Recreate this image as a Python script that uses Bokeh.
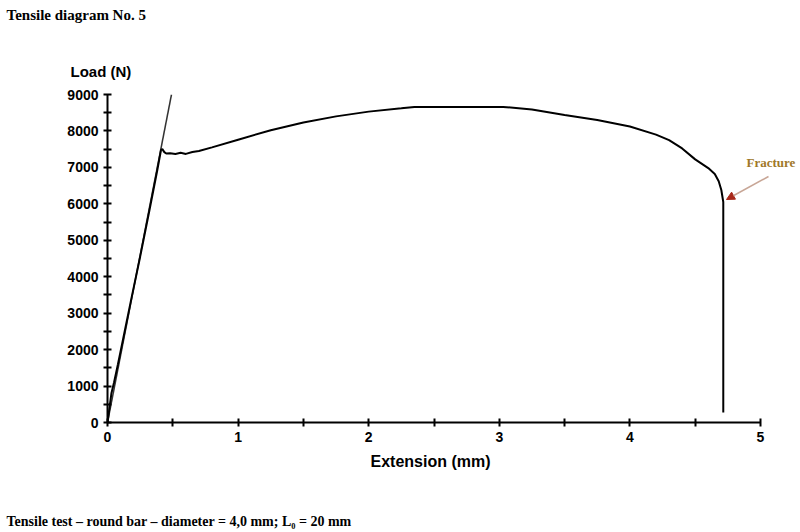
from bokeh.plotting import figure
from bokeh.embed import file_html
from bokeh.resources import INLINE
from bokeh.models import FixedTicker, Label, Arrow, NormalHead, Range1d, Title

# ---- data ----
extension = [0, 0.03, 0.05, 0.08, 0.12, 0.18, 0.25, 0.32, 0.38, 0.41, 0.42, 0.435,
             0.45, 0.48, 0.52, 0.56, 0.6, 0.65, 0.7, 0.8, 1.0, 1.25, 1.5, 1.75,
             2.0, 2.25, 2.35, 3.03, 3.25, 3.5, 3.75, 4.0, 4.2, 4.3, 4.4, 4.5,
             4.6, 4.65, 4.68, 4.70, 4.715, 4.715]
load = [0, 800, 1100, 1600, 2300, 3350, 4550, 5800, 6900, 7480, 7500, 7420,
        7380, 7390, 7370, 7400, 7370, 7420, 7450, 7550, 7760, 8020, 8230, 8400,
        8530, 8620, 8660, 8660, 8590, 8440, 8300, 8120, 7900, 7750, 7520, 7220,
        6980, 6820, 6620, 6380, 6050, 275]
elastic_x = [0, 0.49]
elastic_y = [0, 9000]

y_ticks = list(range(0, 9001, 500))
y_labels = {t: (str(t) if t % 1000 == 0 else "") for t in y_ticks}
x_ticks = [0, 0.5, 1, 1.5, 2, 2.5, 3, 3.5, 4, 4.5, 5]
x_labels = {t: (str(int(t)) if float(t).is_integer() else "") for t in x_ticks}

title_text = "Tensile diagram No. 5"
caption_text = "Tensile test \u2013 round bar \u2013 diameter = 4,0 mm; L\u2080 = 20 mm"
SERIF = "'Liberation Serif', 'DejaVu Serif', serif"

X_PER_PX = 5 / 653.0
p = figure(width=800, height=532, output_backend="svg", toolbar_location=None,
           x_range=Range1d(0, 693 * X_PER_PX), y_range=Range1d(0, 9000),
           min_border_left=107, min_border_right=0, min_border_top=94,
           min_border_bottom=110)
p.outline_line_color = None
p.xgrid.visible = False
p.ygrid.visible = False
p.background_fill_color = "white"
p.border_fill_color = "white"

for ax in (p.xaxis[0], p.yaxis[0]):
    ax.axis_line_width = 2
    ax.axis_line_color = "black"
    ax.major_tick_in = 4
    ax.major_tick_out = 4
    ax.major_tick_line_width = 2
    ax.minor_tick_line_color = None
    ax.major_label_text_font = "Liberation Sans"
    ax.major_label_text_font_style = "bold"
    ax.major_label_text_font_size = "14px"
    ax.major_label_text_color = "black"

p.yaxis.ticker = FixedTicker(ticks=y_ticks)
p.yaxis.major_label_overrides = y_labels
p.yaxis.major_label_standoff = 5
p.xaxis.ticker = FixedTicker(ticks=x_ticks)
p.xaxis.major_label_overrides = x_labels
p.xaxis.major_label_standoff = 5
p.xaxis.bounds = (0, 5)

p.line(elastic_x, elastic_y, line_color="#333333", line_width=1.5)
p.line(extension, load, line_color="black", line_width=2)

def px_to_x(px):
    return (px - 107) * X_PER_PX

def py_to_y(py):
    return (422 - py) * 9000 / 328

def spacer(standoff):
    return Title(text=" ", standoff=standoff, text_font_size="1px",
                 text_color="white")

# texts outside the frame live in the side panels (stacked from the frame outward)
p.add_layout(Title(text="Load (N)", align="left", offset=70 - 107, standoff=30,
                   text_font="Liberation Sans", text_font_style="bold",
                   text_font_size="15px", text_color="black"), "above")
p.add_layout(spacer(17), "above")
p.add_layout(Title(text=title_text, align="left", offset=6 - 107, standoff=6,
                   text_font=SERIF, text_font_style="bold",
                   text_font_size="15px", text_color="black"), "above")

p.add_layout(Title(text="Extension (mm)", align="left", offset=370 - 107, standoff=12,
                   text_font="Liberation Sans", text_font_style="bold",
                   text_font_size="16px", text_color="black"), "below")
p.add_layout(spacer(32), "below")
p.add_layout(Title(text=caption_text, align="left", offset=6 - 107, standoff=2,
                   text_font=SERIF, text_font_style="bold",
                   text_font_size="14px", text_color="black"), "below")

p.add_layout(Label(x=px_to_x(746), y=py_to_y(169), text="Fracture",
                   text_font="Liberation Serif", text_font_style="bold",
                   text_font_size="13px", text_color="#a07828"))
p.add_layout(Arrow(x_start=px_to_x(768), y_start=py_to_y(176),
                   x_end=px_to_x(726), y_end=py_to_y(199),
                   line_color="#c8a696", line_width=1.5,
                   end=NormalHead(size=8, fill_color="#a8281a", line_color="#a8281a")))

open("out.html", "w").write(file_html(p, INLINE))
